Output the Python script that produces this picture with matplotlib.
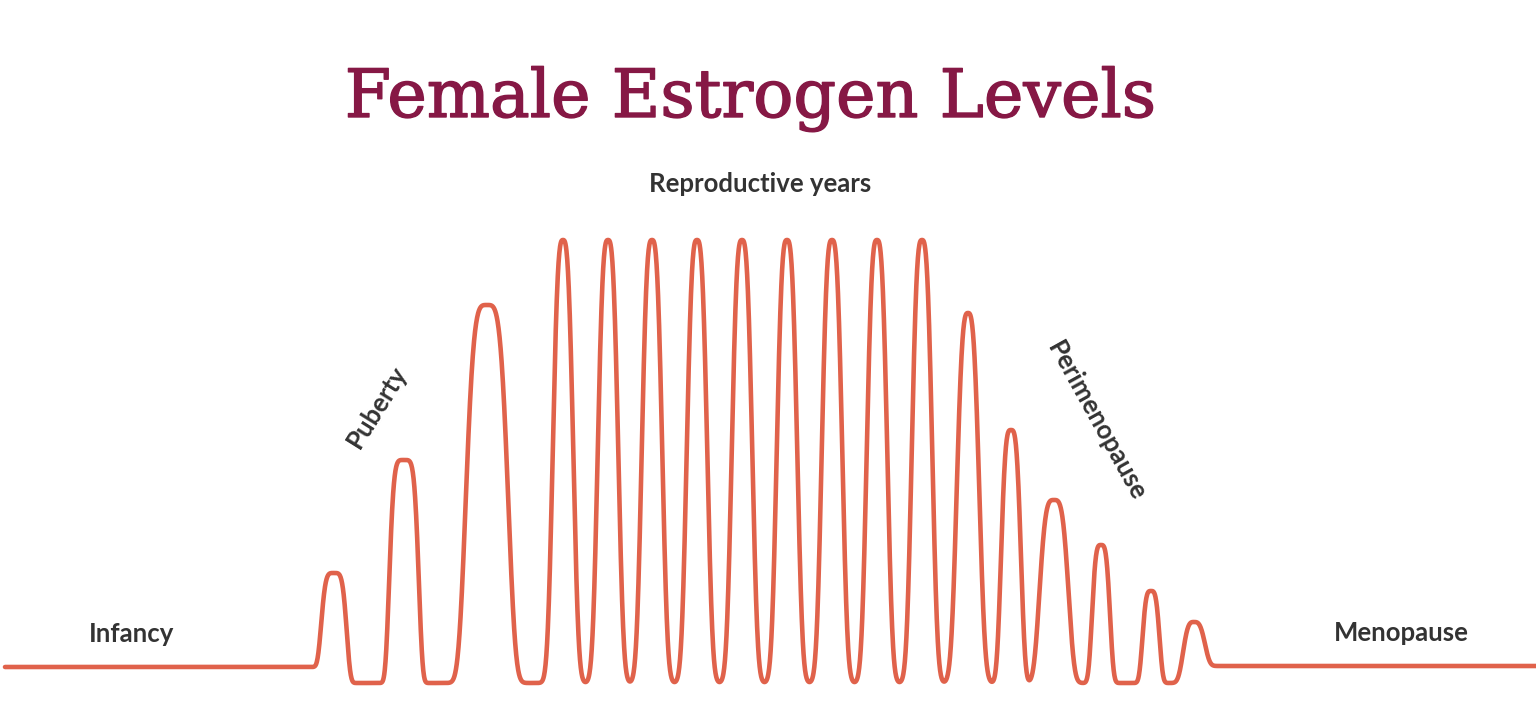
import numpy as np
import matplotlib
matplotlib.use("Agg")
import matplotlib.pyplot as plt
import matplotlib.patheffects as pe

# ---- data: estrogen cycle peaks (position along life course, level relative to infancy baseline)
peak_pos = [334, 404, 487, 563, 608, 652, 697, 742, 787, 832, 877, 922,
            968, 1011, 1054, 1101, 1151, 1194]
peak_level = [94, 207, 362, 427, 427, 427, 427, 427, 427, 427, 427, 427,
              354, 237, 167, 122, 76, 45]
peak_halfwidth = [12.5, 14.5, 21, 10.5, 10.5, 10.5, 10.5, 10.5, 10.5, 10.5, 10.5, 10.5,
                  11.5, 10, 14.5, 9, 8.5, 11]
peak_sharpness = [4.5, 5, 4, 3.0, 3.0, 3.0, 3.0, 3.0, 3.0, 3.0, 3.0, 3.0,
                  3.0, 3.4, 3.6, 3.6, 3.6, 3.3]
infancy_level = 0
cycling_trough = -16
menopause_level = 1

stage_labels = ["Infancy", "Puberty", "Reproductive years", "Perimenopause", "Menopause"]
title = "Female Estrogen Levels"

# ---- build the line
x = np.linspace(5, 1536, 6000)

def step(x0, k=1.5):
    return 1.0 / (1.0 + np.exp(-(x - x0) / k))

base = (infancy_level
        + (cycling_trough - infancy_level) * step(peak_pos[0])
        + (menopause_level - cycling_trough) * step(peak_pos[-1]))
y = base.copy()
for c, h, hw, p in zip(peak_pos, peak_level, peak_halfwidth, peak_sharpness):
    w = hw / np.log(2) ** (1.0 / p)
    f = np.exp(-np.abs((x - c) / w) ** p)
    y = y + f * (h - base)

fig = plt.figure(figsize=(15.36, 7.24), dpi=100)
ax = fig.add_axes([0, 0, 1, 1])
ax.set_xlim(0, 1536)
ax.set_ylim(-57, 667)
ax.axis("off")

ax.plot(x, y, color="#E0624B", lw=3.3, solid_capstyle="round", solid_joinstyle="round")

lab = dict(family="Lato", fontweight="bold", color="#333333", fontsize=18.5)
ax.text(132, 33, stage_labels[0], ha="center", va="center", **lab)
ax.text(377, 260, stage_labels[1], ha="center", va="center", rotation=58, **lab)
ax.text(760, 483, stage_labels[2], ha="center", va="center", **lab)
ax.text(1097, 246, stage_labels[3], ha="center", va="center", rotation=-61, **lab)
ax.text(1401, 34, stage_labels[4], ha="center", va="center", **lab)

ax.text(750, 550, title, ha="center", va="baseline", family="DejaVu Serif",
        fontsize=48, color="#861845",
        path_effects=[pe.withStroke(linewidth=1.0, foreground="#861845")])

fig.savefig("out.png", dpi=100, facecolor="white")
